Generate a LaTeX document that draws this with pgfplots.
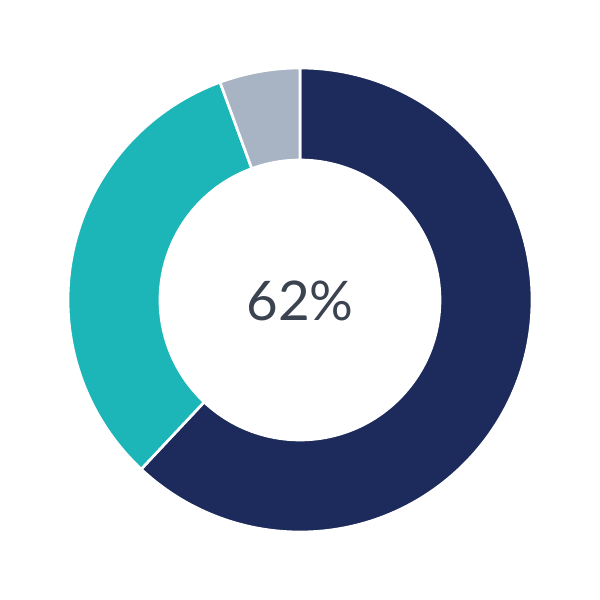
\documentclass[border=0pt]{standalone}
\usepackage{pgfplots}
\usepackage{pgfplotstable}
\pgfplotsset{compat=1.18}
\usepackage{fontspec}
\setmainfont{Lato}

\definecolor{navy}{HTML}{1C2B5B}
\definecolor{teal}{HTML}{1CB5B8}
\definecolor{slate}{HTML}{A8B4C4}
\definecolor{labelgray}{HTML}{3B4350}

% share of each ring segment, clockwise from the top
\pgfplotstableread{
label value color
A 62.0 navy
B 32.4 teal
C 5.6 slate
}\donut

\begin{document}
\begin{tikzpicture}
\begin{axis}[
  width=450pt, height=450pt, scale only axis,
  xmin=-300, xmax=300, ymin=-300, ymax=300,
  hide axis, clip=false,
]
\path (axis cs:-300,-300) rectangle (axis cs:300,300);
\pgfmathsetmacro\acc{90}
\pgfplotstablegetrowsof{\donut}
\pgfmathtruncatemacro\nrows{\pgfplotsretval-1}
\pgfplotsforeachungrouped \i in {0,...,\nrows}{
  \pgfplotstablegetelem{\i}{value}\of\donut \let\val\pgfplotsretval
  \pgfplotstablegetelem{\i}{color}\of\donut \let\col\pgfplotsretval
  \pgfmathsetmacro\endang{\acc-3.6*\val}
  \edef\seg{\noexpand\draw[fill=\col, draw=white, line width=2pt, line join=miter]
    (axis cs:{232*cos(\acc)},{232*sin(\acc)})
    arc[start angle=\acc, end angle=\endang, radius=232]
    -- (axis cs:{140*cos(\endang)},{140*sin(\endang)})
    arc[start angle=\endang, end angle=\acc, radius=140] -- cycle;}
  \seg
  \let\acc\endang
}
\node[text=labelgray] at (axis cs:0,-1) {\fontsize{41}{49}\selectfont 62\%};
\end{axis}
\end{tikzpicture}
\end{document}
